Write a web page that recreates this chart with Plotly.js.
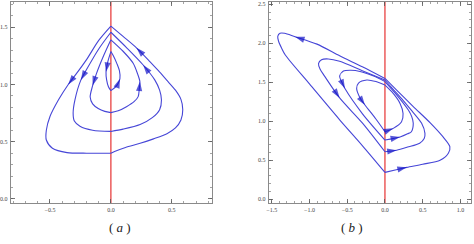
<!DOCTYPE html>
<html>
<head>
<meta charset="utf-8">
<script src="https://cdn.plot.ly/plotly-3.0.1.min.js"></script>
<style>html,body{margin:0;padding:0;background:#fff;}#chart{width:474px;height:244px;}</style>
</head>
<body>
<div id="chart"></div>
<script>
// ---------- Panel (a) orbits: left half (x<0) and right half (x>0) ----------
const a1LeftX = [0, -0.1, -0.2, -0.3, -0.35, -0.43, -0.5, -0.53, -0.53, -0.48, -0.36, -0.2, 0];
const a1LeftY = [1.51, 1.385, 1.217, 1.07, 1.0, 0.866, 0.72, 0.6, 0.515, 0.443, 0.405, 0.40, 0.40];
const a1RightX = [0, 0.03, 0.12, 0.24, 0.35, 0.46, 0.53, 0.575, 0.59, 0.575, 0.53, 0.456, 0.39, 0.32, 0.21, 0.1, 0];
const a1RightY = [0.40, 0.415, 0.45, 0.486, 0.525, 0.57, 0.62, 0.69, 0.78, 0.87, 0.95, 1.04, 1.12, 1.2, 1.32, 1.42, 1.51];

const a2LeftX = [0, -0.1, -0.2, -0.246, -0.295, -0.31, -0.3, -0.254, -0.15, 0];
const a2LeftY = [1.456, 1.31, 1.13, 1.04, 0.866, 0.75, 0.68, 0.635, 0.60, 0.59];
const a2RightX = [0, 0.1, 0.24, 0.34, 0.40, 0.415, 0.40, 0.36, 0.265, 0.13, 0];
const a2RightY = [0.59, 0.61, 0.65, 0.71, 0.78, 0.865, 0.95, 1.04, 1.17, 1.32, 1.456];

const a3LeftX = [0, -0.06, -0.12, -0.15, -0.17, -0.15, -0.104, -0.05, 0];
const a3LeftY = [1.39, 1.25, 1.09, 0.99, 0.89, 0.83, 0.79, 0.765, 0.754];
const a3RightX = [0, 0.06, 0.128, 0.19, 0.224, 0.233, 0.238, 0.22, 0.183, 0.1, 0];
const a3RightY = [0.754, 0.77, 0.806, 0.85, 0.894, 0.96, 1.025, 1.09, 1.185, 1.29, 1.39];

const a4LeftX = [0, -0.025, -0.04, -0.035, -0.02, 0];
const a4LeftY = [1.287, 1.2, 1.11, 1.04, 0.98, 0.946];
const a4RightX = [0, 0.04, 0.06, 0.074, 0.07, 0.05, 0.02, 0];
const a4RightY = [0.946, 0.98, 1.01, 1.05, 1.12, 1.18, 1.25, 1.287];

// arrow positions: index into each half-orbit (arrow drawn at that point, along travel direction)
const aArrowLeftIdx = [4, 3, 3, 2];
const aArrowRightIdx = [14, 8, 6, 3];

// ---------- Panel (b) orbits ----------
const b1LeftX = [0, -0.3, -0.6, -0.9, -1.19, -1.33, -1.39, -1.42, -1.41, -1.37, -1.32, -1.0, -0.6, -0.3, 0];
const b1LeftY = [1.55, 1.70, 1.84, 1.99, 2.085, 2.13, 2.13, 2.09, 2.03, 1.94, 1.85, 1.48, 1.02, 0.69, 0.346];
const b1RightX = [0, 0.15, 0.29, 0.5, 0.73, 0.84, 0.86, 0.77, 0.6, 0.375, 0.155, 0];
const b1RightY = [0.346, 0.38, 0.41, 0.45, 0.50, 0.59, 0.675, 0.80, 0.98, 1.19, 1.40, 1.55];

const b2LeftX = [0, -0.3, -0.6, -0.75, -0.84, -0.88, -0.86, -0.8, -0.6, -0.3, 0];
const b2LeftY = [1.53, 1.65, 1.77, 1.80, 1.79, 1.74, 1.67, 1.58, 1.30, 0.98, 0.61];
const b2RightX = [0, 0.155, 0.3, 0.46, 0.52, 0.53, 0.486, 0.36, 0.24, 0.1, 0];
const b2RightY = [0.61, 0.63, 0.67, 0.72, 0.78, 0.846, 0.974, 1.13, 1.27, 1.42, 1.53];

const b3LeftX = [0, -0.15, -0.33, -0.45, -0.55, -0.6, -0.56, -0.53, -0.3, 0];
const b3LeftY = [1.51, 1.58, 1.64, 1.655, 1.645, 1.58, 1.48, 1.42, 1.1, 0.76];
const b3RightX = [0, 0.2, 0.3, 0.35, 0.375, 0.355, 0.31, 0.155, 0];
const b3RightY = [0.76, 0.80, 0.84, 0.867, 0.974, 1.06, 1.145, 1.34, 1.51];

const b4LeftX = [0, -0.12, -0.24, -0.35, -0.375, -0.33, -0.265, -0.12, 0];
const b4LeftY = [1.465, 1.51, 1.53, 1.49, 1.42, 1.3, 1.21, 1.03, 0.867];
const b4RightX = [0, 0.11, 0.22, 0.24, 0.2, 0.09, 0];
const b4RightY = [0.867, 0.91, 0.995, 1.10, 1.23, 1.38, 1.465];

const bArrowLeftIdx = [4, 8, 7, 6];
const bArrowRightIdx = [2, 1, 1, 1];

// tick labels
const aXTicks = [-0.5, 0.0, 0.5];
const aYTicks = [0.0, 0.5, 1.0, 1.5];
const bXTicks = [-1.5, -1.0, -0.5, 0.0, 0.5, 1.0];
const bYTicks = [0.0, 0.5, 1.0, 1.5, 2.0, 2.5];
const panelLabels = ['( <i>a</i> )', '( <i>b</i> )'];

// ---------- build traces ----------
const curveColor = 'rgb(70,70,215)';
const arrowColor = 'rgb(20,20,200)';
const traces = [];
function addOrbit(xs, ys, xa, ya, arrIdx) {
  traces.push({x: xs, y: ys, xaxis: xa, yaxis: ya, type: 'scatter', mode: 'lines',
    line: {color: curveColor, width: 1.1, shape: 'spline', smoothing: 0.8}, hoverinfo: 'skip'});
  const i = arrIdx;
  traces.push({x: [xs[i-1], xs[i]], y: [ys[i-1], ys[i]], xaxis: xa, yaxis: ya, type: 'scatter', mode: 'markers',
    marker: {symbol: 'arrow', size: [0, 10], angleref: 'previous', angle: 0, color: arrowColor, line: {width: 0}},
    hoverinfo: 'skip'});
}
const aL = [[a1LeftX,a1LeftY],[a2LeftX,a2LeftY],[a3LeftX,a3LeftY],[a4LeftX,a4LeftY]];
const aR = [[a1RightX,a1RightY],[a2RightX,a2RightY],[a3RightX,a3RightY],[a4RightX,a4RightY]];
const bL = [[b1LeftX,b1LeftY],[b2LeftX,b2LeftY],[b3LeftX,b3LeftY],[b4LeftX,b4LeftY]];
const bR = [[b1RightX,b1RightY],[b2RightX,b2RightY],[b3RightX,b3RightY],[b4RightX,b4RightY]];
aL.forEach((c, k) => addOrbit(c[0], c[1], 'x', 'y', aArrowLeftIdx[k]));
aR.forEach((c, k) => addOrbit(c[0], c[1], 'x', 'y', aArrowRightIdx[k]));
bL.forEach((c, k) => addOrbit(c[0], c[1], 'x2', 'y2', bArrowLeftIdx[k]));
bR.forEach((c, k) => addOrbit(c[0], c[1], 'x2', 'y2', bArrowRightIdx[k]));

const tickFont = {family: 'Liberation Serif, DejaVu Serif, serif', size: 6, color: '#444'};
function ax(domain, range, ticks, anchor, minor) {
  return {domain: domain, range: range, anchor: anchor, tickvals: ticks, tickformat: '.1f',
    ticks: 'inside', ticklen: 4, tickwidth: 0.8, tickcolor: '#555', mirror: 'allticks',
    showline: true, linecolor: '#8a8a8a', linewidth: 1.2, showgrid: false, zeroline: false,
    tickfont: tickFont, ticklabelstandoff: 1,
    minor: {dtick: minor, ticks: 'inside', ticklen: 2, tickwidth: 0.6, tickcolor: '#666', showgrid: false}};
}
const layout = {
  width: 474, height: 244, margin: {l: 0, r: 0, t: 0, b: 0},
  paper_bgcolor: '#fff', plot_bgcolor: '#fff', showlegend: false,
  xaxis: Object.assign(ax([11/474, 212/474], [-0.82, 0.83], aXTicks, 'y', 0.1), {tick0: 0}),
  yaxis: Object.assign(ax([1-203/244, 1-2/244], [-0.035, 1.72], aYTicks, 'x', 0.1), {tick0: 0}),
  xaxis2: Object.assign(ax([269/474, 471/474], [-1.536, 1.14], bXTicks, 'y2', 0.1), {tick0: 0}),
  yaxis2: Object.assign(ax([1-203/244, 1-2/244], [-0.047, 2.53], bYTicks, 'x2', 0.1), {tick0: 0}),
  shapes: [
    {type: 'line', xref: 'x', yref: 'y domain', x0: 0, x1: 0, y0: 0, y1: 1, line: {color: 'rgb(230,50,50)', width: 1.2}, layer: 'below'},
    {type: 'line', xref: 'x2', yref: 'y2 domain', x0: 0, x1: 0, y0: 0, y1: 1, line: {color: 'rgb(230,50,50)', width: 1.2}, layer: 'below'}
  ],
  annotations: [
    {text: panelLabels[0], xref: 'paper', yref: 'paper', x: 107/474, y: 1-237/244, showarrow: false,
      font: {family: 'Liberation Serif, DejaVu Serif, serif', size: 13, color: '#222'}},
    {text: panelLabels[1], xref: 'paper', yref: 'paper', x: 365/474, y: 1-237/244, showarrow: false,
      font: {family: 'Liberation Serif, DejaVu Serif, serif', size: 13, color: '#222'}}
  ]
};
Plotly.newPlot('chart', traces, layout, {staticPlot: true, displayModeBar: false});
</script>
</body>
</html>
